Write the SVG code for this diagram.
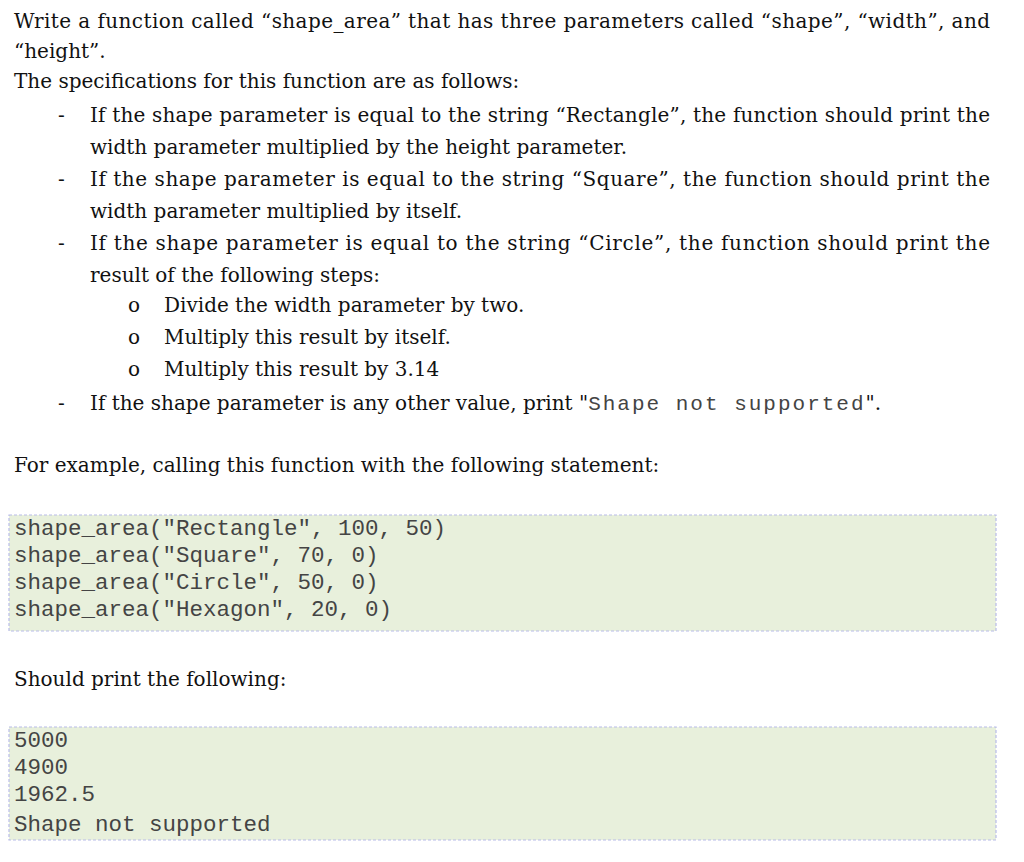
<svg xmlns="http://www.w3.org/2000/svg" width="1024" height="862" viewBox="0 0 1024 862">
<style>
.t{font-family:"DejaVu Serif","Liberation Serif",serif;font-size:20px;fill:#111}
.m{font-family:"Liberation Mono","DejaVu Sans Mono",monospace;font-size:22.5px;fill:#444}
.box{fill:#e8f0dc;stroke:#b8bce8;stroke-width:1.2;stroke-dasharray:3 2}
</style>
<rect width="1024" height="862" fill="#fff"/>
<g id="text">
<text class="t" x="14" y="28" textLength="976" lengthAdjust="spacing">Write a function called “shape_area” that has three parameters called “shape”, “width”, and</text>
<text class="t" x="14" y="58">“height”.</text>
<text class="t" x="14" y="88">The specifications for this function are as follows:</text>
<text class="t" x="58" y="122">-</text>
<text class="t" x="90" y="122" textLength="900" lengthAdjust="spacing">If the shape parameter is equal to the string “Rectangle”, the function should print the</text>
<text class="t" x="90" y="154">width parameter multiplied by the height parameter.</text>
<text class="t" x="58" y="186">-</text>
<text class="t" x="90" y="186" textLength="900" lengthAdjust="spacing">If the shape parameter is equal to the string “Square”, the function should print the</text>
<text class="t" x="90" y="218">width parameter multiplied by itself.</text>
<text class="t" x="58" y="250">-</text>
<text class="t" x="90" y="250" textLength="900" lengthAdjust="spacing">If the shape parameter is equal to the string “Circle”, the function should print the</text>
<text class="t" x="90" y="282">result of the following steps:</text>
<text class="t" x="128" y="312">o</text>
<text class="t" x="164" y="312">Divide the width parameter by two.</text>
<text class="t" x="128" y="344">o</text>
<text class="t" x="164" y="344">Multiply this result by itself.</text>
<text class="t" x="128" y="376">o</text>
<text class="t" x="164" y="376">Multiply this result by 3.14</text>
<text class="t" x="58" y="410">-</text>
<text class="t" x="90" y="410">If the shape parameter is any other value, print "<tspan class="m" style="font-size:21px;letter-spacing:2px">Shape not supported</tspan>".</text>
<text class="t" x="14" y="472">For example, calling this function with the following statement:</text>
<text class="t" x="14" y="686">Should print the following:</text>
</g>
<g id="code">
<rect class="box" x="9" y="515" width="987" height="116"/>
<text class="m" x="14" y="535">shape_area("Rectangle", 100, 50)</text>
<text class="m" x="14" y="562">shape_area("Square", 70, 0)</text>
<text class="m" x="14" y="589">shape_area("Circle", 50, 0)</text>
<text class="m" x="14" y="616">shape_area("Hexagon", 20, 0)</text>
</g>
<g id="output">
<rect class="box" x="9" y="727" width="987" height="113"/>
<text class="m" x="14" y="747">5000</text>
<text class="m" x="14" y="774">4900</text>
<text class="m" x="14" y="801">1962.5</text>
<text class="m" x="14" y="831">Shape not supported</text>
</g>
</svg>
